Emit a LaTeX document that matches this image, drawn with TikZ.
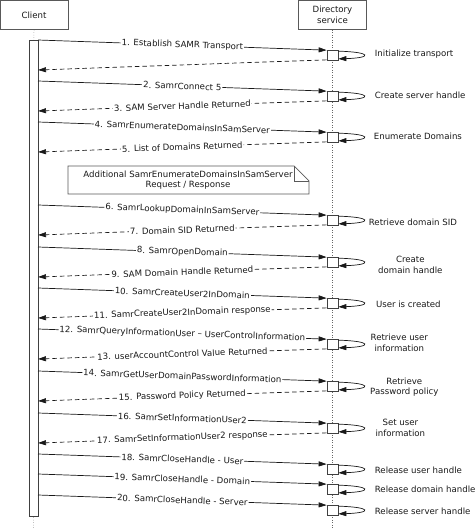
\documentclass[tikz,border=0pt]{standalone}
\usepackage{fontspec}
\setmainfont{DejaVu Sans}
\usetikzlibrary{arrows.meta}
\newcommand\callrow[6]{%
  \node[act] (b#1) at (332.5,#2+15) {};
  \coordinate (s#1) at (38,#2);
  \draw[req] (s#1) -- node[msg]{#3} ([yshift=-0.5pt]b#1.north west);
  \draw[selfl] ([yshift=-1.5pt]b#1.north east) .. controls +(34pt,-1pt) and +(34pt,1pt) .. ([yshift=1.5pt]b#1.south east);
  \node[lbl, align=center, #5] (t#1) at (b#1.east) {#6};
  \if\relax\detokenize{#4}\relax\else
    \coordinate (r#1) at (38,#2+30);
    \draw[ret] ([yshift=0.5pt]b#1.south west) -- node[msg]{#4} (r#1);
  \fi
}
\begin{document}
\begin{tikzpicture}[x=1pt,y=-1pt,
  lbl/.style={font=\fontsize{8.6}{10.5}\selectfont, text=black!90},
  box/.style={draw=black!65, fill=white, line width=0.7pt},
  act/.style={draw=black!75, fill=white, line width=0.7pt, minimum width=11pt, minimum height=10pt, inner sep=0pt},
  req/.style={draw=black!90, line width=0.7pt, -{Triangle[length=8pt,width=5pt]}},
  ret/.style={req, dash pattern=on 4.5pt off 3pt},
  msg/.style={lbl, fill=white, inner sep=1pt, sloped, midway},
  life/.style={draw=black!60, dotted, line width=0.5pt},
  selfl/.style={draw=black!90, line width=0.7pt, -{Triangle[length=8pt,width=5pt]}}]
\useasboundingbox (0,0) rectangle (474,529);
% heads
\node[box, lbl, minimum width=68pt, minimum height=29pt, inner sep=0pt, align=center] (client) at (34,15) {Client};
\node[box, lbl, minimum width=68pt, minimum height=29pt, inner sep=0pt, align=center] (ds) at (332.5,15) {Directory\\service};
\coordinate (clbot) at (33.5,529);
\coordinate (dsbot) at (332.5,529);
\draw[life] (client.south) -- (clbot);
\draw[life] (ds.south) -- (dsbot);
% client activation
\node[act, minimum width=9pt, minimum height=476pt, anchor=north] (cbar) at (33.5,40) {};
% note
\coordinate (n1) at (68,166);
\coordinate (n2) at (294,166);
\coordinate (n3) at (309,181);
\coordinate (n4) at (309,194);
\coordinate (n5) at (68,194);
\coordinate (n6) at (294,181);
\draw[box] (n1) -- (n2) -- (n3) -- (n4) -- (n5) -- cycle;
\draw[box, fill=none] (n2) -- (n6) -- (n3);
\node[lbl, align=center] (note) at (188,180) {Additional SamrEnumerateDomainsInSamServer\\Request / Response};
% rows
\callrow{1}{40}{1. Establish SAMR Transport}{}{anchor=west, xshift=33pt, yshift=1pt}{Initialize transport}
\draw[ret] ([yshift=0.5pt]b1.south west) -- (38,70);
\callrow{2}{81}{2. SamrConnect 5}{3. SAM Server Handle Returned}{anchor=west, xshift=33pt, yshift=1pt}{Create server handle}
\callrow{4}{122}{4. SamrEnumerateDomainsInSamServer}{5. List of Domains Returned}{anchor=west, xshift=32pt, yshift=1pt}{Enumerate Domains}
\callrow{6}{205}{6. SamrLookupDomainInSamServer}{7. Domain SID Returned}{anchor=west, xshift=27pt, yshift=-2pt}{Retrieve domain SID}
\callrow{8}{247}{8. SamrOpenDomain}{9. SAM Domain Handle Returned}{xshift=72pt, yshift=-3pt}{Create\\domain handle}
\callrow{10}{288}{10. SamrCreateUser2InDomain}{11. SamrCreateUser2InDomain response}{xshift=70pt, yshift=-1pt}{User is created}
\callrow{12}{329}{12. SamrQueryInformationUser -- UserControlInformation}{13. userAccountControl Value Returned}{xshift=61pt, yshift=1pt}{Retrieve user\\information}
\callrow{14}{371}{14. SamrGetUserDomainPasswordInformation}{15. Password Policy Returned}{xshift=66pt, yshift=-1pt}{Retrieve\\Password policy}
\callrow{16}{413}{16. SamrSetInformationUser2}{17. SamrSetInformationUser2 response}{xshift=62pt, yshift=0pt}{Set user\\information}
\callrow{18}{454}{18. SamrCloseHandle - User}{}{anchor=west, xshift=33pt, yshift=-1pt}{Release user handle}
\callrow{19}{474}{19. SamrCloseHandle - Domain}{}{anchor=west, xshift=33pt, yshift=0pt}{Release domain handle}
\callrow{20}{495}{20. SamrCloseHandle - Server}{}{anchor=west, xshift=33pt, yshift=-1pt}{Release server handle}
\end{tikzpicture}
\end{document}
